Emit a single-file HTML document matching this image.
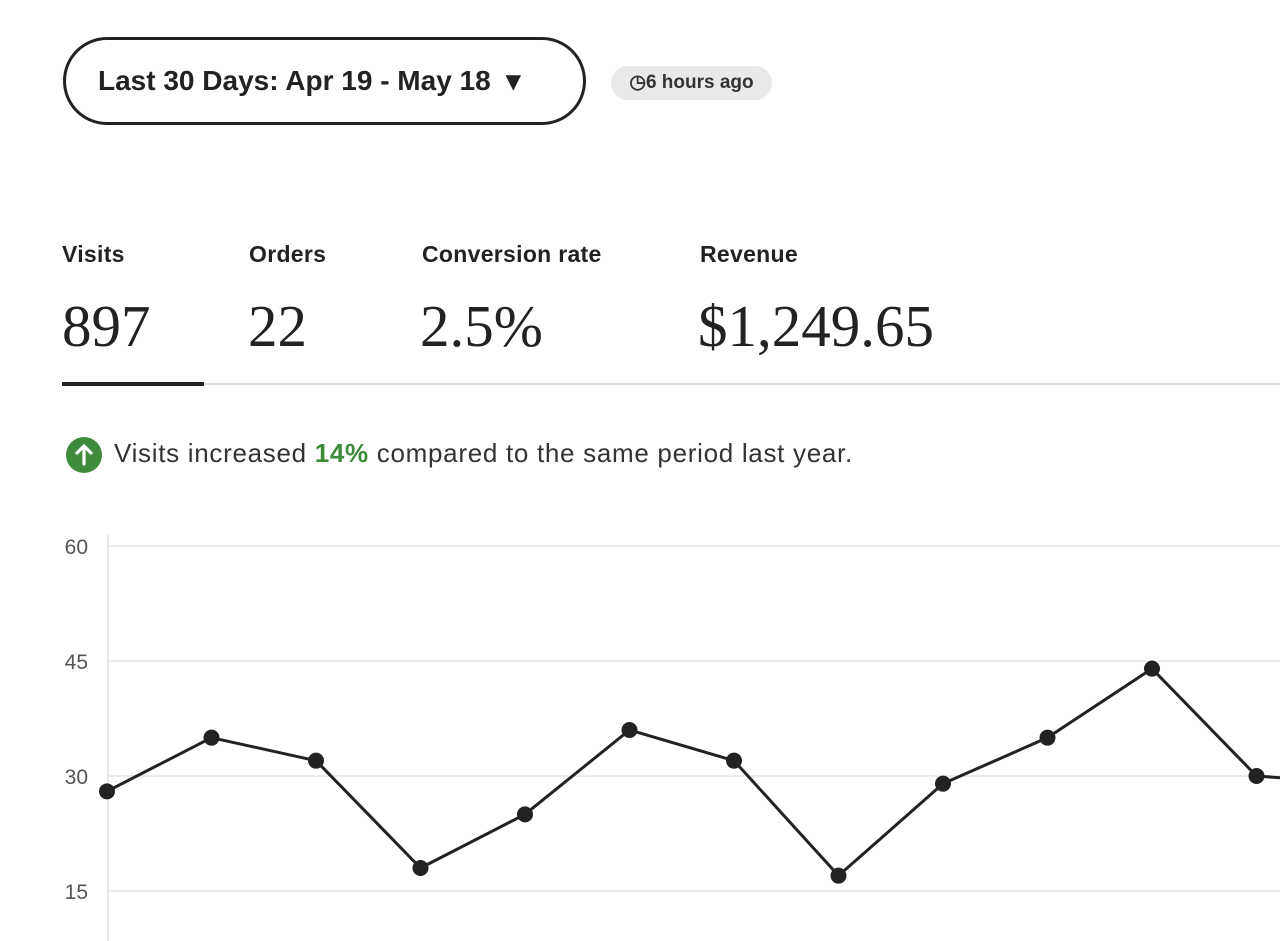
<!DOCTYPE html>
<html><head><meta charset="utf-8">
<style>
body{margin:0;width:1280px;height:941px;overflow:hidden;background:#fff;font-family:"Liberation Sans",sans-serif;color:#222;position:relative}
.abs{position:absolute}
#range{left:63px;top:37px;width:517px;height:82px;border:3px solid #222;border-radius:46px;box-sizing:content-box}
#range span{position:absolute;left:32px;top:24px;font-size:28px;font-weight:bold;letter-spacing:0px;white-space:nowrap}
#badge{left:611px;top:66px;width:161px;height:34px;background:#e9e9e9;border-radius:17px;font-size:19px;line-height:34px;text-align:center;font-weight:bold;color:#333}
.lbl{top:241px;font-size:23px;font-weight:bold;color:#222;letter-spacing:0.3px}
.val{top:292px;font-family:"Liberation Serif",serif;font-size:59px;color:#222;letter-spacing:0px}
#msg{left:114px;top:438px;font-size:26px;letter-spacing:0.7px;color:#333;white-space:nowrap}
</style></head><body>
<div id="range" class="abs"><span>Last 30 Days: Apr 19 - May 18 &nbsp;&#9662;</span></div>
<div id="badge" class="abs">&#9719;6 hours ago</div>
<div class="abs lbl" style="left:62px">Visits</div>
<div class="abs lbl" style="left:249px">Orders</div>
<div class="abs lbl" style="left:422px">Conversion rate</div>
<div class="abs lbl" style="left:700px">Revenue</div>
<div class="abs val" style="left:62px">897</div>
<div class="abs val" style="left:248px">22</div>
<div class="abs val" style="left:420px">2.5%</div>
<div class="abs val" style="left:698px">$1,249.65</div>
<div class="abs" style="left:62px;top:383px;width:1218px;height:2px;background:#ddd"></div>
<div class="abs" style="left:62px;top:382px;width:142px;height:4px;background:#222"></div>
<svg class="abs" style="left:66px;top:437px" width="36" height="36"><circle cx="18" cy="18" r="18" fill="#3f8b3c"/><path d="M18 27V10M11 16l7-7 7 7" stroke="#fff" stroke-width="3.2" fill="none" stroke-linecap="round" stroke-linejoin="round"/></svg>
<div id="msg" class="abs">Visits increased <b style="color:#3f8b3c">14%</b> compared to the same period last year.</div>
<svg id="chart" class="abs" style="left:0;top:0" width="1280" height="941"></svg>
<script>
const yTicks=[60,45,30,15];
const tickLabels=["60","45","30","15"];
const days=[0,1,2,3,4,5,6,7,8,9,10,11,12];
const visits=[28,35,32,18,25,36,32,17,29,35,44,30,29];
const ns="http://www.w3.org/2000/svg",svg=document.getElementById('chart');
const y=v=>1006-v*(115/15), x=i=>107+i*104.5;
function mk(t,a){const e=document.createElementNS(ns,t);for(const k in a)e.setAttribute(k,a[k]);svg.appendChild(e);return e;}
yTicks.forEach((t,i)=>{
 const g=mk('line',{x1:108,x2:1280,y1:y(t),y2:y(t),stroke:'#e6e6e6','stroke-width':1.5});
 
 
 const l=mk('text',{x:88,y:y(t)+8,'text-anchor':'end','font-size':21,fill:'#555','font-family':'Liberation Sans'});
 l.textContent=tickLabels[i];
 
 
});
const ax=mk('line',{x1:108,x2:108,y1:535,y2:941,stroke:'#e0e0e0','stroke-width':1.5});


const pl=mk('polyline',{points:days.map(i=>x(i)+','+y(visits[i])).join(' '),fill:'none',stroke:'#222','stroke-width':3,'stroke-linejoin':'round'});


days.forEach(i=>{
 const c=mk('circle',{cx:x(i),cy:y(visits[i]),r:8,fill:'#222'});
 
 
});
</script>
</body></html>
